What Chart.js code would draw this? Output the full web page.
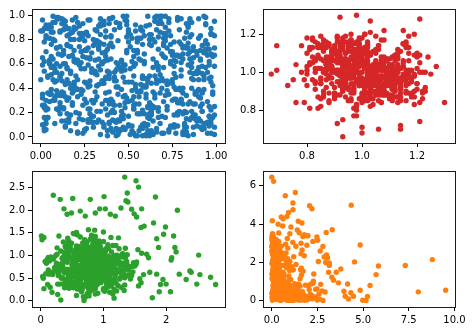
<!DOCTYPE html>
<html>
<head>
<meta charset="utf-8">
<script src="https://cdn.jsdelivr.net/npm/chart.js@4.4.1/dist/chart.umd.min.js"></script>
<style>
html, body { margin: 0; padding: 0; background: #fff; }
#wrap { position: relative; width: 474px; height: 333px; }
#wrap canvas { position: absolute; left: 0; top: 0; }
</style>
</head>
<body>
<div id="wrap">
  <canvas id="c1" width="474" height="333"></canvas>
  <canvas id="c2" width="474" height="333"></canvas>
  <canvas id="c3" width="474" height="333"></canvas>
  <canvas id="c4" width="474" height="333"></canvas>
</div>
<script>
// panel 1 (arriba izq) - uniforme
const p1X = [
.12,.87,.45,.03,.66,.29,.91,.54,.18,.73,.38,.97,.61,.08,.44,.79,.25,.50,.02,.83,
.57,.14,.69,.33,.95,.41,.06,.77,.22,.59,.88,.36,.10,.64,.47,.99,.28,.71,.16,.52,
.81,.05,.39,.93,.26,.62,.11,.74,.48,.35,.90,.19,.56,.84,.31,.67,.01,.43,.78,.23,
.96,.58,.15,.70,.37,.85,.09,.53,.27,.92,.46,.63,.20,.75,.04,.89,.34,.60,.13,.98,
.42,.68,.24,.80,.07,.55,.32,.94,.17,.49,.72,.00,.86,.40,.65,.21,.76,.30,.51,.93,
.35,.02,.71,.48,.19,.84,.60,.27,.95,.11,.53,.78,.39,.06,.67,.90,.23,.46,.82,.14,
.63,.31,.88,.09,.57,.40,.76,.18,.99,.44,.25,.70,.03,.59,.92,.36,.81,.12,.50,.74,
.07,.94,.52,.26,.83,.15,.66,.38,.01,.79,.47,.21,.89,.61,.33,.05,.72,.56,.98,.29,
.86,.43,.17,.64,.34,.97,.08,.55,.80,.24,.68,.13,.91,.45,.77,.20,.58,.02,.37,.69,
.22,.75,.49,.11,.90,.62,.30,.85,.41,.06,.96,.54,.28,.73,.16,.87,.04,.65,.32,.83,
.51,.19,.78,.37,.03,.70,.93,.14,.60,.42,.85,.27,.66,.09,.99,.48,.23,.81,.57,.34,
.10,.88,.31,.67,.53,.21,.45,.92,.05,.74,.36,.63,.18,.96,.40,.79,.12,.59,.84,.26,
.77,.44,.02,.58,.82,.35,.69,.10,.49,.91,.15,.32,.73,.55,.07,.87,.62,.25,.94,.38,
.30,.64,.97,.20,.46,.08,.56,.80,.27,.13,.71,.89,.41,.01,.52,.34,.98,.17,.68,.47,
.93,.06,.60,.85,.24,.76,.39,.03,.65,.54,.19,.43,.95,.28,.83,.11,.50,.72,.04,.61,
.16,.71,.26,.43,.99,.13,.82,.47,.34,.68,.02,.90,.57,.21,.75,.38,.09,.86,.44,.00,
.58,.35,.84,.07,.62,.29,.50,.97,.18,.81,.42,.66,.14,.39,.90,.05,.77,.31,.56,.92,
.04,.79,.47,.94,.11,.57,.23,.71,.86,.36,.60,.08,.83,.48,.17,.63,.28,.99,.20,.45,
.69,.27,.13,.53,.88,.42,.96,.32,.06,.75,.24,.84,.52,.70,.03,.46,.93,.15,.61,.37,
.40,.91,.65,.18,.33,.80,.01,.61,.49,.22,.97,.37,.12,.87,.58,.26,.67,.44,.79,.09,
.85,.15,.54,.74,.29,.05,.68,.40,.92,.57,.31,.76,.46,.19,.64,.99,.35,.07,.53,.82,
.23,.60,.09,.36,.77,.94,.44,.14,.70,.02,.81,.50,.27,.96,.11,.55,.84,.39,.16,.73,
.98,.48,.33,.89,.05,.66,.19,.58,.37,.83,.13,.62,.04,.43,.78,.30,.12,.92,.67,.25,
.54,.08,.76,.22,.50,.41,.87,.26,.63,.15,.95,.34,.71,.82,.21,.59,.47,.01,.86,.39,
.31,.82,.42,.96,.14,.73,.03,.90,.20,.66,.49,.07,.58,.35,.88,.17,.74,.62,.28,.55,
.67,.25,.91,.12,.59,.32,.79,.45,.08,.51,.70,.23,.99,.64,.06,.42,.37,.81,.14,.94,
.18,.56,.06,.63,.85,.17,.38,.69,.94,.28,.04,.87,.32,.53,.74,.10,.91,.48,.72,.03,
.75,.39,.97,.30,.43,.92,.61,.11,.52,.80,.36,.58,.16,.78,.25,.65,.02,.33,.46,.89,
.44,.93,.20,.78,.08,.49,.27,.84,.71,.39,.62,.15,.90,.07,.48,.97,.55,.24,.80,.60,
.09,.66,.53,.01,.72,.86,.14,.35,.98,.60,.22,.81,.45,.68,.34,.03,.76,.57,.11,.40,
.37,.81,.06,.59,.24,.93,.48,.15,.70,.32,.86,.02,.64,.43,.97,.19,.55,.78,.28,.11,
.66,.09,.52,.88,.35,.17,.74,.41,.99,.23,.61,.84,.05,.47,.30,.72,.90,.13,.58,.39,
.95,.45,.21,.67,.03,.80,.34,.56,.12,.91,.27,.69,.50,.08,.76,.42,.18,.63,.98,.36,
.14,.73,.58,.31,.89,.46,.07,.62,.83,.25,.40,.96,.19,.71,.53,.01,.87,.33,.68,.49,
.82,.28,.97,.16,.44,.65,.92,.04,.38,.77,.60,.11,.85,.29,.02,.54,.68,.94,.21,.75,
.26,.60,.13,.79,.51,.33,.98,.22,.67,.46,.07,.83,.36,.58,.93,.15,.41,.10,.79,.62,
.50,.94,.39,.05,.71,.20,.59,.87,.30,.14,.76,.48,.99,.24,.63,.35,.70,.52,.03,.88,
.09,.41,.76,.53,.18,.85,.27,.44,.95,.62,.32,.06,.57,.80,.12,.91,.25,.67,.45,.17,
.72,.15,.64,.90,.37,.01,.50,.74,.16,.82,.55,.29,.69,.40,.86,.08,.61,.33,.97,.54,
.43,.87,.22,.35,.96,.57,.11,.81,.47,.04,.92,.65,.19,.73,.31,.78,.06,.89,.38,.70
];
const p1Y = [
.34,.71,.05,.92,.58,.17,.83,.40,.26,.97,.63,.11,.48,.79,.02,.66,.31,.88,.54,.20,
.90,.43,.68,.14,.76,.29,.51,.03,.85,.62,.37,.95,.22,.57,.08,.73,.46,.99,.15,.81,
.27,.60,.93,.39,.07,.84,.19,.70,.45,.12,.53,.88,.33,.01,.77,.24,.65,.41,.96,.56,
.72,.10,.47,.81,.30,.64,.98,.23,.59,.36,.06,.75,.89,.44,.16,.52,.91,.09,.68,.35,
.13,.86,.38,.55,.94,.01,.42,.77,.18,.69,.25,.47,.61,.83,.32,.04,.58,.28,.74,.99,
.61,.24,.79,.06,.43,.91,.35,.12,.67,.86,.50,.20,.97,.39,.72,.15,.82,.56,.03,.44,
.05,.52,.18,.73,.88,.31,.63,.96,.08,.41,.79,.57,.14,.68,.27,.93,.02,.37,.85,.60,
.47,.93,.62,.28,.15,.75,.04,.54,.87,.21,.99,.33,.70,.10,.58,.81,.45,.19,.66,.30,
.84,.07,.40,.64,.97,.22,.56,.81,.30,.03,.46,.71,.25,.90,.49,.11,.76,.62,.36,.93,
.19,.67,.99,.35,.53,.80,.12,.29,.74,.58,.17,.92,.42,.06,.84,.65,.23,.98,.51,.08,
.56,.38,.09,.87,.24,.46,.69,.91,.02,.49,.82,.14,.61,.34,.95,.28,.70,.04,.43,.77,
.98,.15,.54,.21,.71,.03,.90,.37,.63,.76,.08,.44,.86,.59,.20,.39,.13,.83,.27,.65,
.31,.79,.26,.48,.09,.60,.17,.68,.95,.13,.57,.33,.04,.78,.64,.47,.92,.06,.72,.18,
.75,.02,.85,.61,.39,.94,.27,.50,.14,.88,.34,.67,.22,.96,.05,.55,.37,.80,.11,.49,
.11,.57,.32,.97,.66,.18,.48,.06,.78,.27,.64,.01,.53,.19,.86,.74,.29,.43,.91,.24,
.66,.90,.44,.12,.83,.36,.74,.59,.21,.95,.07,.81,.38,.47,.69,.01,.53,.16,.60,.87,
.22,.46,.73,.58,.01,.69,.87,.14,.41,.64,.26,.99,.09,.75,.33,.92,.62,.30,.05,.52,
.89,.28,.15,.79,.50,.08,.35,.82,.57,.10,.91,.45,.73,.24,.52,.18,.96,.67,.40,.13,
.40,.73,.96,.03,.27,.53,.62,.21,.90,.47,.14,.59,.30,.85,.11,.63,.07,.89,.25,.70,
.07,.63,.50,.36,.91,.76,.10,.45,.32,.80,.68,.23,.97,.02,.42,.86,.55,.14,.78,.38,
.53,.19,.87,.70,.12,.29,.96,.64,.06,.37,.88,.52,.17,.62,.80,.25,.44,.99,.33,.02,
.85,.41,.23,.44,.67,.98,.05,.33,.75,.16,.40,.09,.83,.48,.28,.71,.90,.51,.12,.94,
.16,.96,.64,.09,.35,.47,.80,.01,.49,.93,.23,.76,.36,.55,.98,.08,.67,.21,.58,.45,
.60,.32,.08,.91,.78,.14,.52,.72,.26,.56,.03,.84,.65,.11,.39,.60,.18,.35,.94,.27,
.37,.81,.46,.25,.60,.87,.22,.39,.98,.07,.71,.30,.49,.92,.15,.54,.83,.04,.64,.19,
.94,.05,.71,.52,.19,.42,.66,.93,.11,.84,.29,.61,.02,.37,.76,.20,.48,.73,.08,.57,
.28,.64,.35,.84,.95,.05,.30,.48,.70,.23,.50,.18,.79,.66,.09,.97,.32,.59,.46,.83,
.70,.12,.89,.17,.46,.58,.99,.25,.38,.61,.92,.07,.44,.28,.85,.35,.05,.78,.21,.54,
.03,.50,.20,.67,.30,.82,.41,.77,.16,.53,.15,.89,.57,.80,.34,.45,.69,.26,.97,.10,
.46,.88,.58,.32,.73,.21,.13,.61,.84,.42,.74,.36,.06,.51,.93,.30,.10,.63,.49,.82,
.82,.19,.66,.41,.93,.07,.55,.30,.77,.12,.48,.89,.25,.61,.03,.71,.37,.96,.14,.58,
.44,.73,.09,.52,.27,.85,.62,.98,.18,.39,.05,.68,.91,.33,.80,.22,.47,.60,.87,.11,
.29,.57,.94,.16,.70,.38,.02,.81,.46,.64,.23,.99,.10,.53,.31,.88,.67,.20,.42,.76,
.90,.35,.50,.79,.13,.62,.86,.28,.04,.71,.97,.17,.45,.83,.26,.59,.08,.74,.36,.92,
.06,.65,.84,.32,.57,.95,.21,.49,.72,.39,.01,.87,.14,.56,.78,.43,.99,.11,.63,.30,
.71,.48,.24,.88,.02,.43,.67,.15,.93,.54,.80,.34,.62,.09,.47,.76,.27,.97,.40,.19,
.17,.92,.37,.61,.85,.50,.11,.74,.28,.95,.41,.07,.58,.83,.22,.69,.03,.45,.81,.35,
.60,.04,.78,.23,.42,.70,.96,.35,.12,.50,.87,.64,.19,.31,.93,.08,.56,.82,.26,.74,
.38,.83,.13,.97,.66,.26,.45,.08,.89,.21,.69,.53,.03,.77,.40,.94,.16,.72,.49,.01,
.94,.27,.59,.46,.09,.81,.34,.68,.55,.16,.75,.24,.90,.44,.63,.18,.86,.37,.05,.66
];

// panel 2 (arriba der) - normal alrededor de 1, primero los puntos sueltos
const p2X = [
.69,.67,.69,.73,.75,.76,.92,.98,1.03,1.21,1.30,1.27,1.25,1.23,1.21,1.14,1.14,1.06,1.00,1.00,.93,.91,.93,.97,.98,.79,.81,.84,1.22,1.19,1.15,.78,.80,.76,
1.02,.95,1.08,.91,1.00,1.13,.97,.86,1.05,.99,1.17,.93,1.03,.88,1.10,.96,1.01,.82,1.06,.98,
.94,1.04,1.12,.89,1.00,.97,1.21,.92,1.07,1.03,.84,.99,1.15,.95,1.09,.90,1.02,1.18,.96,1.05,
1.11,.87,.98,1.04,.93,1.14,1.01,.80,1.07,.96,1.23,.91,1.00,1.03,.85,1.16,.97,1.08,.94,1.02,
.99,1.06,.90,1.19,1.01,.95,.83,1.10,.98,1.04,.92,1.13,1.00,.88,1.07,.97,1.15,.93,1.03,1.09,
.86,1.01,1.05,.96,1.12,.92,1.00,1.08,.79,1.03,.97,1.17,.94,1.06,.99,.89,1.11,1.02,.95,1.20,
1.04,.91,.99,1.14,.87,1.02,1.07,.96,1.10,.93,1.00,.84,1.16,.98,1.05,1.13,.90,1.01,1.08,.95,
.97,1.09,.93,1.01,1.18,.88,1.04,.99,.92,1.12,1.06,.95,1.02,.81,1.15,.97,1.03,.89,1.10,1.00,
1.07,.94,1.11,.85,.98,1.05,1.22,.91,1.01,.96,1.08,1.14,.90,1.03,.99,.86,1.06,1.17,.93,1.02,
.92,1.00,1.04,.97,1.13,.89,.95,1.09,1.02,.83,1.11,.98,1.06,.94,1.19,1.01,.87,1.05,.96,1.12,
1.03,.88,.97,1.07,1.00,1.16,.93,1.02,.78,1.10,.96,1.04,.90,1.13,.99,1.08,.95,1.01,1.24,.91,
.98,1.12,1.01,.92,1.06,.85,1.09,.97,1.03,1.15,.94,1.00,1.07,.89,1.02,.96,1.11,.82,1.05,.99,
1.10,.95,.88,1.03,.99,1.08,1.01,1.18,.93,.97,1.05,.91,1.14,1.00,.86,1.04,.98,1.09,.94,1.02,
.96,1.05,1.13,.90,1.02,.97,.84,1.07,1.11,.99,1.01,1.20,.92,1.04,.95,1.00,1.08,.88,1.15,.97,
1.01,.93,1.06,1.10,.87,1.03,.98,.94,1.16,1.05,.90,.99,1.02,1.12,.96,.80,1.07,1.00,.95,1.09,
.89,1.08,.97,1.02,1.14,.95,1.04,1.00,.91,1.06,.98,1.11,.86,1.03,1.17,.93,.99,1.05,1.01,.94,
1.05,.99,1.15,.93,.97,1.09,.88,1.02,1.06,.95,1.21,1.00,.92,.98,1.10,1.04,.85,1.13,.96,1.03,
.94,1.11,1.00,1.07,.90,1.01,1.13,.96,.83,1.04,.99,1.08,1.02,.95,1.06,.89,1.19,.97,1.00,1.12,
1.08,.97,.92,1.03,1.16,.98,1.05,.87,1.10,1.01,.94,.96,1.14,1.00,.91,1.07,1.02,.99,1.23,.88,
1.00,1.04,.95,.86,1.09,1.12,.97,1.01,.93,1.18,1.06,.90,.98,1.03,1.11,.94,1.05,.81,1.02,.96,
.88,1.12,.95,1.03,.84,1.18,.99,.91,1.07,1.15,.86,1.01,.94,1.10,.82,1.05,.97,1.20,.90,1.08,
1.14,.87,1.02,.93,1.17,.80,1.06,.96,1.11,.89,1.00,1.22,.92,1.04,.85,1.13,.98,.83,1.09,.95,
.90,1.05,1.16,.86,.99,1.10,.81,1.03,.94,1.19,.88,1.07,1.13,.97,.84,1.01,1.15,.92,1.06,.87,
1.08,.93,.85,1.12,1.01,.89,1.17,.96,1.04,.82,1.10,.98,.91,1.21,1.02,.86,1.14,.95,.80,1.09,
.97,1.16,.90,1.05,.83,1.11,.94,1.00,1.18,.87,1.03,.92,1.13,.85,1.07,.99,.89,1.20,1.01,.93,
1.11,.84,1.06,.95,1.14,.91,1.02,.88,1.09,.98,1.19,.82,1.04,.96,1.12,.87,1.00,1.15,.90,1.05,
.86,1.01,1.13,.92,1.07,.97,.83,1.17,1.04,.90,.95,1.10,.88,1.22,.99,1.06,.85,1.03,1.14,.94,
1.03,.89,.96,1.15,.87,1.08,1.12,.93,.81,1.00,1.16,.91,1.05,.84,1.10,.97,1.19,.88,1.02,1.13,
.92,1.09,1.20,.85,1.01,.94,1.06,1.14,.89,1.03,.86,.98,1.11,1.17,.93,.80,1.04,.96,1.08,.90,
1.16,.95,.88,1.04,1.12,.83,.99,1.07,.94,1.21,1.01,.87,.97,1.09,1.15,.91,1.02,.85,.96,1.11,
.84,1.06,1.01,.90,.97,1.18,.93,1.03,1.13,.86,1.08,.95,1.00,.82,1.12,1.05,.89,1.16,.92,1.04,
1.07,.91,1.14,.98,.87,1.02,1.10,.85,1.19,.96,.92,1.06,.88,1.13,.99,1.03,.94,1.09,.83,1.17,
.95,1.13,.86,1.09,1.03,.90,.97,1.16,1.01,.88,1.11,.84,1.05,.99,.93,1.20,.87,1.02,1.14,.91
];
const p2Y = [
1.14,.99,1.01,.93,.96,.84,1.29,1.30,1.27,1.28,.84,1.03,.99,.90,.74,.72,.70,.70,.71,.68,.66,.73,.75,.77,.77,.84,.81,.81,.89,1.20,1.22,1.14,1.10,1.04,
.97,1.06,.92,1.01,1.10,.95,1.03,.88,1.00,1.14,.94,1.04,.99,1.08,.86,1.02,.96,1.17,.93,1.05,
1.03,.90,1.00,1.12,.96,1.07,.84,1.01,.98,1.09,1.15,.93,1.05,.97,1.02,.89,1.11,.95,1.00,1.19,
.91,1.04,1.08,.97,1.02,.85,1.13,.99,1.06,.94,1.00,1.10,.88,1.03,.96,1.16,.92,1.01,1.07,.98,
1.09,.96,1.01,.87,1.05,1.12,.94,1.00,.82,1.04,.99,1.07,.95,1.14,1.02,.90,.97,1.06,1.21,.93,
1.00,1.13,.95,1.03,.91,.98,1.09,1.05,.96,.86,1.11,1.01,.93,1.02,1.17,.97,1.04,.89,1.00,1.08,
.95,1.01,1.18,.92,1.06,.99,.88,1.11,1.03,1.00,.94,1.08,.97,.80,1.05,1.02,1.13,.96,.90,1.04,
1.06,.89,1.00,1.10,.97,1.15,1.02,.93,1.07,.96,1.04,.85,1.01,1.12,.98,.94,1.09,1.03,.99,.87,
.98,1.07,.93,1.02,1.16,.90,1.00,1.05,.95,1.20,1.01,.97,1.10,.88,1.03,1.06,.92,1.13,.96,1.00,
1.12,.94,1.03,.98,.87,1.06,1.01,.96,1.14,.91,1.08,1.00,.95,1.04,.83,1.10,.99,1.02,1.17,.93,
.92,1.02,1.10,.96,1.04,.99,.91,1.15,1.00,1.07,.86,1.03,1.12,.97,1.05,.94,1.01,.89,1.08,1.11,
1.04,.97,.88,1.09,1.01,1.13,.95,1.02,.90,.99,1.06,1.18,.93,1.00,1.08,.85,1.03,.96,1.10,.99,
.99,1.11,1.05,.93,.97,1.03,1.20,.89,1.07,1.01,.95,1.09,1.02,.84,1.14,1.00,.96,1.06,.92,1.04,
1.07,.93,1.00,1.14,.96,1.04,.87,1.01,.98,1.10,1.02,.94,1.16,.99,.91,1.05,1.08,.97,1.03,.81,
.94,1.05,1.12,.98,1.02,.90,1.06,.96,1.13,1.03,.88,1.00,.95,1.09,1.01,1.18,.93,1.04,.98,1.07,
1.02,.88,.97,1.06,1.11,1.00,.93,1.08,.95,1.04,1.15,.91,1.01,.97,1.06,.99,.86,1.12,1.03,.95,
.96,1.09,1.03,.90,1.00,1.07,.98,1.16,1.02,.92,1.05,.97,1.11,.83,1.04,1.01,.94,1.08,1.14,1.00,
1.10,1.00,.94,1.04,.89,1.02,1.12,.97,1.06,1.01,.93,1.22,.99,1.05,.96,1.03,1.09,.91,1.00,1.07,
.90,1.03,1.08,.99,1.15,.95,1.01,1.04,.87,1.10,.98,1.02,.94,1.06,1.19,.97,1.00,1.13,.92,1.05,
1.05,.96,1.01,1.11,.93,1.08,.99,.85,1.03,.97,1.14,1.00,1.06,.92,1.02,1.10,.95,1.04,.98,.89,
1.05,.90,1.13,.96,1.02,.87,1.09,.99,.84,1.15,1.01,.93,1.07,.88,1.18,.95,1.04,.91,1.11,.98,
.92,1.08,.85,1.14,.97,1.03,.89,1.17,1.00,.94,1.12,.86,1.06,.99,.82,1.10,.95,1.02,.88,1.16,
1.10,.97,1.01,.87,1.15,.93,1.05,.90,1.19,.98,.85,1.08,.95,1.12,1.02,.89,.96,1.14,.91,1.04,
.88,1.16,.94,1.06,.90,1.11,.99,1.03,.86,1.13,.96,.83,1.09,1.00,.93,1.17,.87,1.05,1.01,.95,
1.03,.85,1.12,.98,1.07,.92,1.16,.89,1.01,.96,1.10,.88,.97,1.14,.84,1.04,1.08,.94,1.20,.91,
.96,1.13,.88,1.02,.94,1.18,.86,1.07,.99,1.11,.90,1.05,.83,.97,1.09,1.01,.93,1.15,.87,1.06,
1.12,.91,1.04,.95,1.17,.89,1.00,1.10,.93,.86,1.14,.98,1.03,.90,1.07,.85,1.19,.96,1.02,.94,
.89,1.06,.97,1.15,.92,1.01,.87,.99,1.13,1.04,.95,1.16,.88,1.09,.94,1.11,.98,.84,1.05,1.00,
1.07,.94,1.10,.86,1.03,.97,1.14,.91,1.06,.82,1.00,1.12,.95,.89,1.18,.93,1.02,1.08,.90,1.13,
.93,1.02,.89,1.11,.99,1.16,.95,1.04,.87,1.09,.92,1.01,1.15,.96,1.06,.88,1.13,.97,1.03,.85,
1.14,.98,1.06,.92,1.00,.88,1.12,.95,1.03,.90,1.17,.97,.86,1.08,1.01,.94,1.10,.89,1.05,.96,
.91,1.09,.96,1.02,1.13,.94,.87,1.07,.99,1.15,.93,1.04,.97,.84,1.11,.90,1.05,1.00,.95,1.19,
1.01,.87,1.15,.97,.92,1.06,1.10,.90,.96,1.03,.88,1.13,.99,1.07,.94,1.02,1.16,.93,.89,1.08
];

// panel 3 (abajo izq) - sesgada a la derecha, primero los puntos sueltos
const p3X = [
1.34,1.52,1.56,.20,.31,.51,.79,1.01,1.83,2.18,1.38,1.36,1.39,1.28,1.45,1.49,1.53,1.61,1.80,1.99,
1.96,2.12,1.85,1.88,2.14,2.16,2.09,2.08,2.52,2.21,2.38,2.40,2.32,2.54,2.49,2.71,2.79,2.00,1.89,2.07,
1.78,1.74,1.85,1.69,1.72,.01,.02,.05,.32,.69,1.91,1.95,1.65,1.60,.37,.42,.49,.63,.71,.87,.94,1.03,1.11,1.19,
.72,.45,1.05,.88,.31,.63,1.21,.79,.54,.97,1.38,.66,.18,.84,1.12,.49,.75,.92,1.56,.60,
.83,1.14,.39,.70,.95,.57,1.29,.12,.81,.68,1.03,.44,.90,1.47,.76,.26,.99,.62,1.18,.86,
.51,.94,.73,1.09,.36,.80,.65,1.33,.87,.22,1.00,.58,.77,1.24,.42,.91,.69,1.61,.83,.47,
1.07,.64,.28,.85,1.17,.74,.53,.96,.07,.71,1.42,.89,.60,1.11,.38,.78,1.26,.55,.93,.67,
.33,.82,1.02,.59,.76,1.35,.46,.88,.70,1.19,.15,.98,.63,.84,1.52,.41,1.08,.73,.27,.90,
.79,1.23,.56,.97,.43,.67,1.06,.20,.86,.75,1.31,.52,.94,.62,1.15,.35,.81,1.01,.69,1.44,
.61,.37,.92,1.13,.74,.50,.85,1.27,.09,.78,.66,1.04,.45,1.39,.88,.57,.96,.30,1.20,.72,
.95,.68,.24,.83,1.10,.58,1.36,.77,.48,.91,.64,1.22,.80,.13,1.00,.53,.87,1.58,.71,.40,
.55,1.16,.81,.34,.99,.73,.62,1.08,.89,.44,1.30,.76,.17,.93,1.05,.65,.82,.29,1.45,.78,
1.25,.48,.90,.70,.05,1.02,.84,.57,1.14,.39,.97,.69,1.34,.80,.23,.88,1.07,.61,.75,1.50,
.42,.86,1.18,.63,.92,.32,.77,1.40,.54,.85,.68,1.11,.03,.96,.58,1.28,.74,.47,1.03,.82,
.70,1.09,.51,.87,.14,.79,1.00,.66,1.21,.43,.90,.74,1.55,.60,.36,1.06,.83,.94,.25,1.17,
.87,.59,1.32,.75,.46,.98,.21,.85,.67,1.12,.55,.80,1.01,.38,.92,1.43,.71,.11,.89,.64,
.27,.93,.69,1.04,.82,.52,1.24,.73,.96,.35,.62,1.15,.86,.48,1.37,.77,.58,1.00,.19,.84,
1.13,.76,.40,.91,.65,1.48,.81,.29,1.05,.71,.88,.50,1.26,.94,.08,.69,1.10,.78,.56,.99,
.62,.34,1.20,.80,.97,.57,.72,1.09,.44,1.64,.83,.66,.16,1.02,.90,.53,1.31,.75,.41,.87,
.93,1.01,.60,.24,.85,1.14,.47,.79,.68,.95,1.36,.58,.89,.31,1.07,.74,.99,1.53,.64,.37,
.77,.55,1.11,.88,.39,.70,1.27,.92,.04,.83,.61,1.04,.76,1.19,.45,.97,.66,.28,1.41,.82,
.48,.90,.73,1.35,.63,.12,.86,1.00,.54,1.22,.78,.43,.95,.69,1.08,.32,.84,1.17,.59,.74,
1.04,.67,.26,.81,1.46,.52,.94,.71,1.13,.85,.36,.99,.60,1.29,.78,.15,.91,.65,1.06,.50,
.58,1.19,.82,.44,.97,.75,1.60,.63,.30,.88,1.02,.56,.80,1.24,.42,.93,.70,1.11,.87,.10,
.55,.92,.71,1.18,.38,.84,1.03,.62,.77,1.27,.49,.96,.68,.87,1.10,.43,.80,.59,1.34,.73,
.90,.64,1.06,.35,.82,.99,.57,1.21,.74,.46,.95,.69,1.13,.83,.28,.61,1.01,.78,.52,1.17,
.67,1.08,.48,.88,.76,1.30,.58,.93,.40,.81,1.15,.70,.97,.53,.86,1.24,.63,.75,1.04,.45,
1.00,.72,.33,.91,.66,1.12,.85,.50,1.37,.79,.60,.98,.42,1.09,.73,.89,.56,1.20,.68,.94,
.78,.51,1.16,.69,.97,.44,.82,1.05,.61,.90,1.28,.74,.37,.87,1.02,.65,.96,.54,1.11,.80,
.47,.86,.63,1.01,1.22,.75,.55,.92,.70,1.14,.83,.41,.99,.66,1.07,.58,1.32,.77,.89,.62,
1.09,.68,.93,.52,.79,1.19,.64,.88,1.00,.45,.73,1.25,.85,.57,.96,.71,.39,1.06,.82,.67,
.74,1.03,.59,.84,.48,.95,1.15,.70,.62,1.08,.90,.53,.78,1.35,.66,.87,1.01,.44,.76,1.12,
.60,.81,1.20,.72,.98,.50,.69,1.04,.86,.77,.36,.94,1.17,.63,.83,1.29,.56,.91,.71,1.05,
.88,.57,.76,1.10,.65,.85,1.26,.49,.97,.68,1.02,.80,.54,1.14,.92,.61,.75,1.07,.43,.99
];
const p3Y = [
2.73,2.65,2.51,2.33,2.24,2.26,2.24,2.30,2.29,2.00,2.38,2.21,2.18,2.05,2.02,1.92,1.85,2.03,1.72,1.63,
1.47,1.43,1.37,1.18,1.18,1.08,.95,.90,1.01,.59,.66,.63,.47,.58,.37,.52,.36,.37,.20,.20,
.07,.63,.59,1.03,.95,1.43,1.35,1.40,.02,.01,.36,.47,1.65,1.62,2.03,1.91,1.94,1.98,1.87,1.94,2.03,2.03,1.91,1.87,
.65,.92,.38,1.14,.71,.25,.83,1.36,.57,.46,1.02,.78,.19,.94,.61,1.27,.50,.86,.33,1.09,
.74,.41,1.20,.59,.88,.12,.97,.68,1.45,.53,.80,.36,1.06,.64,.27,1.17,.89,.48,.72,1.56,
.31,1.01,.69,.47,1.30,.82,.55,.23,.96,.73,1.11,.40,.62,1.39,.85,.17,.70,1.05,.52,.93,
1.24,.58,.79,.35,.99,.66,1.48,.44,.87,.08,.75,1.13,.54,.91,.29,1.03,.67,.43,1.32,.77,
.50,.84,.21,1.08,.63,.95,.39,.73,1.19,.56,.30,.90,1.41,.68,.81,.45,1.15,.60,.14,.98,
.87,.34,1.12,.71,.48,1.28,.62,.92,.26,.80,1.04,.53,.76,.37,1.22,.85,.44,.97,.70,.58,
.42,1.07,.60,.90,.16,.74,1.34,.51,.83,1.16,.65,.28,.99,.57,.88,1.51,.40,.72,1.00,.33,
.96,.55,.76,1.25,.38,.64,.85,.11,1.10,.69,.47,.93,1.37,.59,.24,.78,1.06,.49,.82,1.18,
.61,.89,.32,.70,1.03,.45,.94,.67,.52,1.29,.79,.36,.63,1.11,.86,.20,.74,1.43,.56,.91,
1.15,.43,.84,.58,.27,1.00,.72,1.21,.46,.90,.60,1.07,.35,.81,.66,1.33,.50,.97,.13,.77,
.70,1.26,.49,.95,.62,.81,.18,.68,1.05,.40,1.17,.75,.54,.93,1.46,.30,.86,.64,1.09,.44,
.53,.77,1.09,.34,.88,.57,1.31,.79,.22,.99,.66,.47,1.13,.71,.38,.92,.60,1.22,.83,.06,
.89,.31,.66,1.18,.50,.73,.96,.42,.85,1.40,.59,.26,.80,1.02,.69,.48,1.24,.36,.93,.75,
.37,1.04,.82,.55,1.36,.29,.64,1.10,.74,.51,.91,.15,1.20,.63,.87,.41,.78,1.52,.58,.98,
1.08,.67,.45,.92,.23,.84,1.14,.56,.71,.33,1.01,.80,.48,1.27,.60,.95,.19,.73,1.06,.52,
.46,.94,1.22,.62,.79,1.06,.39,.88,1.32,.58,.74,.25,.97,.69,1.12,.54,.83,.32,.67,1.42,
.78,.52,.30,1.00,.65,.43,1.19,.76,.09,.90,.55,1.08,.72,.37,.99,1.30,.61,.86,.47,.70,
.93,1.13,.57,.81,1.04,.35,.68,.94,.50,1.23,.42,.79,1.57,.63,.28,.84,1.01,.56,.76,.24,
.58,.36,.87,1.16,.49,.96,.71,.27,1.07,.64,.85,1.38,.53,.77,.44,1.10,.90,.66,.31,1.20,
.83,.68,1.03,.41,.76,1.49,.60,.88,.34,.97,.70,.52,1.15,.79,.21,.94,.45,1.05,.62,.81,
.26,.99,.73,.56,1.11,.62,.40,.95,.78,1.26,.48,.87,.35,.69,1.04,.57,1.35,.82,.15,.91,
.72,.48,1.05,.63,.89,.35,.81,1.16,.56,.97,.42,.74,1.28,.60,.86,.30,1.02,.68,.51,.93,
.58,.91,.39,.77,1.12,.66,.45,.85,1.00,.53,.70,1.22,.33,.94,.62,1.08,.79,.47,.87,.25,
.84,.60,.95,.43,.73,1.03,.55,1.18,.67,.36,.90,.78,.50,1.10,.64,.82,.40,.99,.71,1.31,
.46,1.07,.69,.88,.31,.76,.98,.59,.83,1.14,.44,.65,.92,.52,1.24,.75,.38,.86,1.01,.57,
.96,.34,.80,1.09,.61,.49,.87,.71,1.20,.41,.79,.99,.63,.28,.91,.54,1.13,.68,.45,.82,
.65,.88,.52,.74,1.01,.37,.94,.58,.83,.70,1.17,.47,.76,.89,.42,1.04,.60,.92,.35,.78,
.39,.75,1.11,.57,.86,.66,.29,.97,.73,1.26,.53,.81,.44,.69,1.06,.90,.62,.48,.85,1.15,
.80,.52,.68,.95,.43,1.19,.77,.36,.91,.61,.84,1.02,.56,.74,.32,.98,.67,1.10,.50,.87,
1.04,.63,.40,.83,.71,.93,.55,1.15,.46,.78,.97,.64,.88,.27,.72,.59,1.00,.81,1.23,.38,
.54,.94,.77,.33,1.08,.62,.85,.70,.49,1.12,.58,.90,.75,.97,.43,.66,.83,.31,.92,.69
];

// panel 4 (abajo der) - colas largas, primero los puntos sueltos
const p4X = [
0,.10,.74,1.29,1.16,1.16,.92,.83,2.07,2.20,4.35,1.65,.03,.52,.62,3.31,2.98,2.47,2.51,4.84,
2.80,2.87,4.53,5.84,7.31,8.79,8.02,9.52,5.71,5.38,4.84,4.98,5.16,5.24,4.47,4.33,4.15,4.02,3.78,3.53,
3.65,3.38,3.29,3.11,4.20,3.95,1.05,1.40,1.78,1.70,.35,.60,1.95,2.25,2.65,3.00,3.15,2.95,.38,1.45,
.12,.45,1.10,.03,.78,.26,1.62,.08,.55,2.10,.33,.91,.17,1.35,.05,.62,.40,1.88,.21,.70,
.04,1.22,.37,.86,.15,2.35,.52,.09,1.04,.29,.67,1.48,.02,.44,.96,.19,1.75,.58,.11,.83,
.31,.07,1.30,.60,2.62,.23,.81,.14,1.15,.48,.01,1.95,.73,.36,.10,1.42,.88,.27,2.20,.50,
.65,.18,.99,.06,1.58,.41,.25,1.20,.76,.13,2.48,.54,.32,.92,.04,1.68,.39,.20,1.07,.61,
.09,1.40,.47,.82,.16,.35,2.05,.68,.03,1.12,.28,.57,1.82,.11,.43,.95,.22,2.75,.72,.14,
1.25,.38,.06,.87,.51,1.65,.19,.30,1.02,.08,.63,2.28,.45,.12,1.33,.79,.24,.01,1.55,.40,
.58,.15,1.92,.33,.71,.05,1.18,.46,2.55,.21,.89,.10,.37,1.50,.64,.17,1.00,.27,.07,1.78,
.34,.98,.13,2.15,.56,.26,1.38,.02,.75,.42,1.60,.09,.84,1.27,.20,.49,3.05,.31,.66,.12,
1.08,.44,.22,.69,1.85,.05,.93,.36,1.45,.60,.14,2.40,.28,.77,.03,1.15,.52,.18,1.70,.85,
.25,1.52,.08,.62,.39,1.98,.16,1.05,.48,.30,2.68,.74,.11,1.22,.55,.04,.90,1.63,.35,.19,
.80,.06,1.35,.43,.13,.97,2.25,.29,.67,1.12,.07,.50,1.80,.23,.88,.38,1.45,.15,.60,2.92,
.17,.72,.27,1.60,.53,.10,1.25,.82,.34,2.02,.45,.01,1.03,.64,.21,1.90,.40,.08,.76,1.30,
.47,2.30,.12,.94,.32,1.42,.06,.59,1.72,.26,.85,.15,2.12,.41,1.10,.70,.03,1.55,.37,.99,
1.18,.20,.63,.09,2.48,.44,.78,1.28,.14,.53,1.95,.31,.06,.87,.24,1.38,.68,2.80,.11,.49,
.03,.86,1.48,.36,.18,1.07,.57,.24,2.18,.72,.10,1.25,.42,1.66,.29,.05,.93,.61,1.85,.16,
.54,1.15,.07,.79,2.38,.33,.12,1.52,.66,.22,1.00,.46,3.15,.19,.75,1.32,.02,.58,1.08,.38,
.28,.61,1.75,.15,.90,.48,2.58,.09,1.20,.35,.71,.04,1.40,.82,.17,2.05,.52,.26,.97,1.62,
.05,.42,.88,.15,1.25,.31,.02,.66,.20,1.05,.48,.09,.77,.36,1.42,.12,.58,.27,.95,.04,
.71,.18,1.15,.03,.52,.29,.84,1.60,.11,.40,.06,.97,.24,1.32,.61,.14,.45,.08,1.10,.35,
.22,.90,.07,.55,1.38,.16,.69,.33,.01,1.20,.47,.80,.10,.26,1.55,.63,.19,.92,.04,.50,
1.02,.37,.13,.75,.28,1.70,.09,.57,.44,.87,.02,1.28,.21,.68,.34,1.08,.06,.53,1.45,.17,
.30,.64,1.18,.11,.82,.41,.05,1.50,.25,.73,.14,.99,.38,.03,.60,1.22,.19,.86,.46,.08,
.93,.13,.49,.27,1.35,.07,.70,1.00,.32,.16,1.62,.54,.02,.85,.43,.22,1.12,.10,.65,.39,
.04,1.30,.58,.20,.91,.35,1.48,.12,.76,.06,.45,1.15,.28,.62,.09,1.80,.40,.18,.81,.01,
.51,.24,.96,.08,.67,1.40,.15,.33,1.06,.44,.03,.79,.23,1.25,.56,.11,.89,.37,1.58,.14,
.17,.74,.32,1.12,.05,.59,.26,.94,.42,1.65,.09,.68,1.02,.19,.48,.02,1.35,.61,.30,.83,
.65,.10,1.22,.39,.21,.87,.04,.52,1.75,.29,.72,.13,1.08,.35,.07,.97,.46,.16,1.45,.57
];
const p4Y = [
6.45,6.23,5.48,5.65,5.10,4.75,4.61,4.40,4.96,4.80,4.99,4.06,4.18,4.37,4.28,3.71,3.57,3.33,3.16,2.91,
2.84,2.29,2.03,1.82,1.84,2.15,.47,.55,1.37,.80,.55,.03,.02,.23,.24,.42,.88,.24,1.66,1.49,
.94,1.08,1.23,1.49,.10,.50,3.85,3.70,3.45,3.35,4.00,3.90,3.40,3.10,2.60,2.40,1.85,2.00,3.54,4.15,
.45,1.80,.22,2.65,.90,.10,1.35,3.20,.60,.35,1.05,.15,2.10,.70,3.45,.28,1.55,.08,.95,2.40,
1.20,.05,.75,1.95,.40,.18,2.85,.62,.12,1.48,.32,.85,3.30,.25,1.10,.55,.14,2.25,.88,.03,
.68,2.55,.30,1.15,.09,.50,1.72,.20,3.05,.78,1.40,.06,.42,2.00,.95,.17,2.75,.58,.11,1.28,
.24,.92,3.50,.38,1.62,.07,.55,2.30,.16,1.00,.04,1.85,.72,.33,2.95,.48,.13,1.18,.65,1.50,
2.15,.36,.80,.11,1.25,2.70,.19,.98,.44,.02,1.60,.60,.27,3.15,.85,.15,1.38,.52,2.45,.08,
.58,1.12,.14,2.20,.46,.29,1.70,.83,.06,3.35,.40,1.02,.21,.68,1.90,.12,.35,2.60,.77,1.30,
1.05,.20,2.90,.62,.10,1.45,.37,.16,2.05,.74,.03,1.22,.49,3.55,.25,.90,1.65,.07,.56,2.35,
.31,1.58,.09,.88,2.50,.42,.13,1.15,.66,.23,3.00,.50,1.80,.05,.97,.34,2.25,.18,1.42,.70,
.12,.64,1.95,.27,.82,.04,1.30,2.80,.45,.17,1.08,.60,.22,2.10,.38,1.62,.09,.94,.30,3.25,
1.75,.48,.15,1.10,.57,3.40,.26,.70,.02,1.52,.86,.33,2.40,.11,.63,1.20,.44,.19,2.00,.80,
.35,2.75,.60,.08,1.35,.21,.92,.43,1.85,.14,.55,2.20,.07,1.00,.29,3.10,.72,1.50,.18,.46,
.93,.16,1.25,2.45,.05,.67,.34,1.90,.13,.80,2.60,.39,1.12,.24,.58,.10,1.70,.48,2.95,.20,
.06,1.40,.52,.19,3.00,.87,.30,.12,1.55,.74,.41,2.30,.16,.96,1.78,.27,.04,1.15,.61,2.05,
1.62,.37,.10,1.02,.62,.23,2.50,.46,.08,1.32,3.40,.28,.79,.15,1.95,.53,1.06,.02,.70,.36,
.22,2.15,.84,.40,1.18,.05,.65,3.20,.30,.17,1.45,.90,.11,2.65,.49,.26,1.85,.73,.14,1.00,
.76,.09,1.65,.54,.20,2.35,.96,.13,1.28,.43,.03,.82,1.98,.32,.60,2.85,.18,1.12,.40,.07,
2.70,.51,.28,1.48,.88,.14,.35,2.12,.66,1.05,.24,3.50,.45,.10,1.38,.59,2.25,.19,.83,1.70,
1.60,.22,.75,2.30,.10,1.15,2.85,.45,1.90,.05,.90,2.45,.35,1.30,.15,3.10,.62,1.75,.28,2.10,
.40,1.85,.12,2.60,.95,1.40,.20,.08,2.05,.70,3.25,.30,1.55,.18,.85,2.40,1.10,2.90,.25,1.20,
2.20,.50,3.35,.80,.14,1.70,.38,2.55,1.95,.06,.98,.42,2.75,1.25,.11,.60,2.00,.33,1.45,.88,
.16,1.05,2.50,.55,1.80,.09,2.95,.72,1.35,.26,3.40,.48,1.62,.13,2.25,.36,1.92,.92,.07,1.50,
1.38,.64,.19,2.70,.44,1.22,3.05,.04,1.68,.82,2.35,.23,1.00,2.80,.57,.12,1.48,.31,2.15,1.78,
.27,2.40,1.12,.60,.09,2.65,.34,.15,1.58,2.05,.06,.75,3.20,.40,1.30,1.88,.20,2.50,.52,.94,
2.60,.18,.84,1.42,.35,1.98,.07,2.20,.47,3.00,1.15,.24,1.72,.66,2.38,.03,.90,1.52,.12,2.85,
.78,1.95,.29,2.30,.58,.10,2.75,1.25,.14,.88,2.45,.46,1.60,.21,.68,1.82,.33,1.08,.05,1.38,
2.90,.37,1.50,.16,2.10,.70,1.85,.26,1.18,.11,1.65,.48,.30,2.55,.92,3.15,.20,.62,1.95,.42,
.55,2.20,.24,1.70,2.65,.40,3.30,.85,.08,1.28,.36,2.00,.17,1.02,2.40,.31,.76,1.90,.13,1.12
];

// ticks de cada panel
const p1XTicks = [0, 0.25, 0.5, 0.75, 1];
const p1XLabels = ['0.00', '0.25', '0.50', '0.75', '1.00'];
const p1YTicks = [0, 0.2, 0.4, 0.6, 0.8, 1];
const p1YLabels = ['0.0', '0.2', '0.4', '0.6', '0.8', '1.0'];
const p2XTicks = [0.8, 1.0, 1.2];
const p2XLabels = ['0.8', '1.0', '1.2'];
const p2YTicks = [0.8, 1.0, 1.2];
const p2YLabels = ['0.8', '1.0', '1.2'];
const p3XTicks = [0, 1, 2];
const p3XLabels = ['0', '1', '2'];
const p3YTicks = [0, 0.5, 1, 1.5, 2, 2.5];
const p3YLabels = ['0.0', '0.5', '1.0', '1.5', '2.0', '2.5'];
const p4XTicks = [0, 2.5, 5, 7.5, 10];
const p4XLabels = ['0.0', '2.5', '5.0', '7.5', '10.0'];
const p4YTicks = [0, 2, 4, 6];
const p4YLabels = ['0', '2', '4', '6'];

Chart.defaults.font.family = "'DejaVu Sans', sans-serif";
Chart.defaults.font.size = 10;
Chart.defaults.color = '#000';

// dibuja el recuadro completo del area del grafico
const boxPlugin = {
    id: 'box',
    afterDatasetsDraw(chart) {
        const a = chart.chartArea;
        const ctx = chart.ctx;
        ctx.save();
        ctx.strokeStyle = '#1a1a1a';
        ctx.lineWidth = 1;
        ctx.strokeRect(a.left + 0.5, a.top + 0.5, a.right - a.left, a.bottom - a.top);
        ctx.restore();
    }
};

const axis = (min, max, ticks, labels, horizontal) => ({
    type: 'linear',
    min: min,
    max: max,
    afterBuildTicks: (s) => { s.ticks = ticks.map(v => ({ value: v })); },
    afterFit: (s) => {
        if (horizontal) { s.height = 20; s.paddingLeft = 0; s.paddingRight = 0; }
        else { s.width = 30; }
    },
    ticks: {
        autoSkip: false,
        maxRotation: 0,
        padding: 3,
        color: '#000',
        callback: (v, i) => labels[i]
    },
    grid: { drawOnChartArea: false, drawTicks: true, tickLength: 4, color: '#000', lineWidth: 1 },
    border: { display: false }
});

const makePanel = (id, xs, ys, color, box, xr, yr, xTicks, xLabels, yTicks, yLabels) => {
    const points = xs.map((x, i) => ({ x: x, y: ys[i] }));
    new Chart(document.getElementById(id), {
        type: 'scatter',
        data: {
            datasets: [{
                data: points,
                backgroundColor: color,
                borderWidth: 0,
                pointRadius: 2.7,
                pointHoverRadius: 2.7
            }]
        },
        options: {
            responsive: false,
            animation: false,
            events: [],
            layout: {
                padding: { left: box.l - 30, right: 474 - box.r, top: box.t, bottom: 333 - box.b - 20 }
            },
            plugins: { legend: { display: false }, tooltip: { enabled: false } },
            scales: {
                x: axis(xr[0], xr[1], xTicks, xLabels, true),
                y: axis(yr[0], yr[1], yTicks, yLabels, false)
            }
        },
        plugins: [boxPlugin]
    });
};

makePanel('c1', p1X, p1Y, '#1f77b4', { l: 32, r: 225, t: 7, b: 143 }, [-0.05, 1.05], [-0.05, 1.05],
    p1XTicks, p1XLabels, p1YTicks, p1YLabels);
makePanel('c2', p2X, p2Y, '#d62728', { l: 263, r: 455, t: 7, b: 143 }, [0.64, 1.338], [0.627, 1.333],
    p2XTicks, p2XLabels, p2YTicks, p2YLabels);
makePanel('c3', p3X, p3Y, '#2ca02c', { l: 32, r: 225, t: 171, b: 307 }, [-0.14, 2.94], [-0.135, 2.865],
    p3XTicks, p3XLabels, p3YTicks, p3YLabels);
makePanel('c4', p4X, p4Y, '#ff7f0e', { l: 263, r: 455, t: 171, b: 307 }, [-0.48, 10.03], [-0.32, 6.77],
    p4XTicks, p4XLabels, p4YTicks, p4YLabels);
</script>
</body>
</html>
